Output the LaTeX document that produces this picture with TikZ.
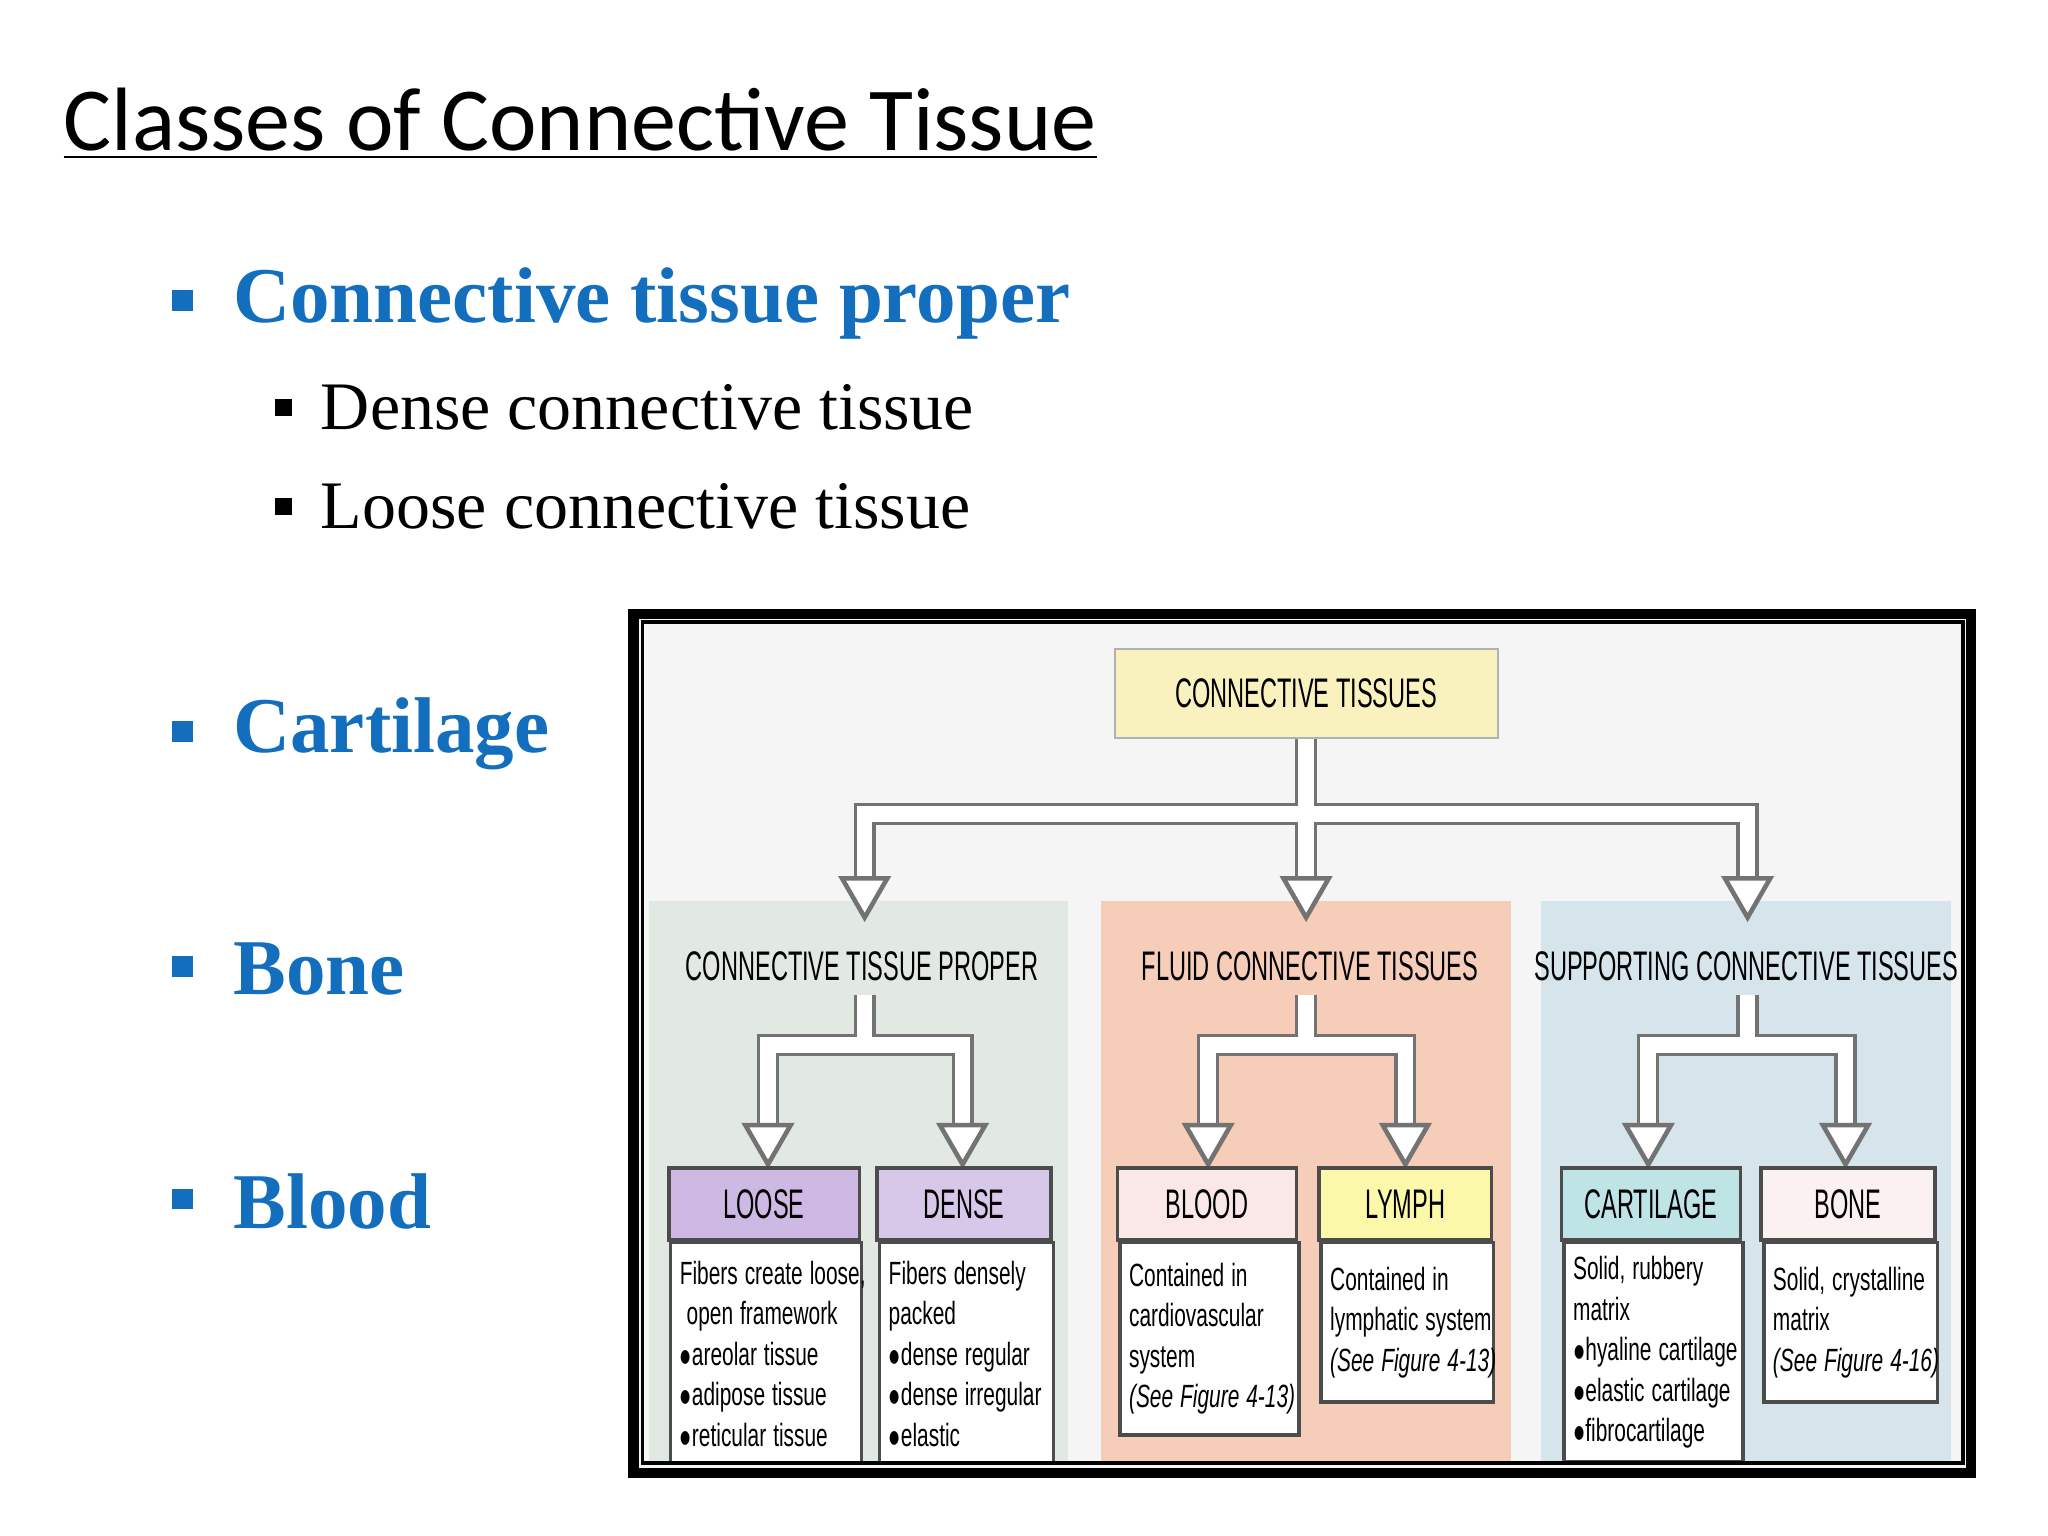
\documentclass[tikz,border=0pt]{standalone}
\usepackage{fontspec}
\setmainfont{Liberation Serif}
\newfontfamily\titlef{Carlito}
\newfontfamily\dsans{Liberation Sans}
\usetikzlibrary{shapes.geometric}
\definecolor{tblue}{RGB}{20,110,190}
\definecolor{pgreen}{RGB}{226,232,226}
\definecolor{ppeach}{RGB}{246,205,185}
\definecolor{pblue}{RGB}{214,228,236}
\definecolor{ttop}{RGB}{250,242,190}
\definecolor{hpurple}{RGB}{205,185,228}
\definecolor{hyellow}{RGB}{252,248,170}
\definecolor{hteal}{RGB}{190,228,230}
\definecolor{hpink}{RGB}{250,232,232}
\newcommand{\cn}[1]{\scalebox{0.57}[1]{#1}}
\newcommand{\bn}[1]{\scalebox{0.65}[1]{#1}}
\begin{document}
\begin{tikzpicture}[x=0.01cm,y=-0.01cm,
  bl/.style={fill=tblue,minimum size=0.16cm,inner sep=0},
  sbl/.style={fill=black,minimum size=0.13cm,inner sep=0},
  big/.style={anchor=west,text=tblue,font=\fontsize{17.2}{20}\selectfont\bfseries},
  sub/.style={anchor=west,font=\fontsize{14.8}{18}\selectfont},
  lab/.style={font=\dsans\fontsize{9}{10}\selectfont},
  hdr/.style={draw=black!70,line width=0.8pt,minimum height=0.55cm,inner sep=0,font=\dsans\fontsize{9}{10}\selectfont},
  body/.style={draw=black!70,line width=0.8pt,fill=white,anchor=north west,align=left,inner sep=2pt,text width=#1cm-4pt,font=\dsans\fontsize{7}{8.8}\selectfont},
  tubeo/.style={draw=black!55,line width=0.17cm},
  tubei/.style={draw=white,line width=0.12cm},
  head/.style={draw=black!55,fill=white,line width=1pt,isosceles triangle,shape border rotate=-90,minimum width=0.32cm,minimum height=0.3cm,inner sep=0,isosceles triangle apex angle=60}]
\useasboundingbox (0,0) rectangle (1568,1176);
% title
\node[anchor=base west,inner sep=0,font=\titlef\fontsize{19.6}{22}\selectfont] (title) at (48,115) {\underline{Classes of Connective Tissue}};
% bullets
\node[bl] (b1) at (140,230) {}; \node[big,inner sep=0] (t1) at (178,232) {Connective tissue proper};
\node[sbl] (s1) at (217,312) {}; \node[sub,inner sep=0] (u1) at (245,312) {Dense connective tissue};
\node[sbl] (s2) at (217,388) {}; \node[sub,inner sep=0] (u2) at (245,388) {Loose connective tissue};
\node[bl] (b2) at (140,560) {}; \node[big,inner sep=0] (t2) at (178,562) {Cartilage};
\node[bl] (b3) at (140,740) {}; \node[big,inner sep=0] (t3) at (178,742) {Bone};
\node[bl] (b4) at (140,918) {}; \node[big,inner sep=0] (t4) at (178,920) {Blood};
% figure frame
\fill[black!4] (486,470) rectangle (1508,1128);
\fill[pgreen] (497,690) rectangle (818,1120);
\fill[ppeach] (843,690) rectangle (1157,1120);
\fill[pblue] (1180,690) rectangle (1494,1120);
% top box
\node[draw=black!30,fill=ttop,minimum width=2.93cm,minimum height=0.68cm,lab] (top) at (1000,531) {\cn{CONNECTIVE TISSUES}};
% tubes
\foreach \s in {tubeo,tubei}{
 \draw[\s] (1000,566) -- (1000,640);
 \draw[\s] (662,680) -- (662,623) -- (1338,623) -- (1338,680);
 \draw[\s] (1000,623) -- (1000,680);
 \draw[\s] (662,762) -- (662,800);
 \draw[\s] (588,870) -- (588,800) -- (737,800) -- (737,870);
}
\foreach \s in {tubeo,tubei}{
 \draw[\s] (1000,762) -- (1000,800);
 \draw[\s] (925,870) -- (925,800) -- (1076,800) -- (1076,870);
 \draw[\s] (1338,762) -- (1338,800);
 \draw[\s] (1262,870) -- (1262,800) -- (1413,800) -- (1413,870);
}
\foreach \x/\y/\n in {662/706/h1,1000/706/h2,1338/706/h3,588/895/h4,737/895/h5,925/895/h6,1076/895/h7,1262/895/h8,1413/895/h9}
 \node[head,anchor=apex] (\n) at (\x,\y) {};
% panel labels
\node[lab] (p1) at (660,740) {\cn{CONNECTIVE TISSUE PROPER}};
\node[lab] (p2) at (1003,740) {\cn{FLUID CONNECTIVE TISSUES}};
\node[lab] (p3) at (1337,740) {\cn{SUPPORTING CONNECTIVE TISSUES}};
% leaf headers
\node[hdr,fill=hpurple,minimum width=1.46cm] (loose) at (585,922) {\cn{LOOSE}};
\node[hdr,fill=hpurple!80,minimum width=1.33cm] (dense) at (738,922) {\cn{DENSE}};
\node[hdr,fill=hpink,minimum width=1.37cm] (blood) at (924,922) {\cn{BLOOD}};
\node[hdr,fill=hyellow,minimum width=1.32cm] (lymph) at (1076,922) {\cn{LYMPH}};
\node[hdr,fill=hteal,minimum width=1.37cm] (cart) at (1264,922) {\cn{CARTILAGE}};
\node[hdr,fill=hpink!60,minimum width=1.33cm] (bone) at (1415,922) {\cn{BONE}};
% bodies
\node[body=1.46,minimum height=1.70cm] (lb) at (512,950) {\bn{Fibers create loose,}\\\bn{ open framework}\\\bn{$\bullet$areolar tissue}\\\bn{$\bullet$adipose tissue}\\\bn{$\bullet$reticular tissue}};
\node[body=1.33,minimum height=1.70cm] (db) at (672,950) {\bn{Fibers densely}\\\bn{packed}\\\bn{$\bullet$dense regular}\\\bn{$\bullet$dense irregular}\\\bn{$\bullet$elastic}};
\node[body=1.37,minimum height=1.47cm] (bb) at (856,950) {\bn{Contained in}\\\bn{cardiovascular}\\\bn{system}\\\bn{\itshape (See Figure 4-13)}};
\node[body=1.32,minimum height=1.22cm] (ly) at (1010,950) {\bn{Contained in}\\\bn{lymphatic system}\\\bn{\itshape (See Figure 4-13)}};
\node[body=1.37,minimum height=1.68cm] (cb) at (1196,950) {\bn{Solid, rubbery}\\\bn{matrix}\\\bn{$\bullet$hyaline cartilage}\\\bn{$\bullet$elastic cartilage}\\\bn{$\bullet$fibrocartilage}};
\node[body=1.33,minimum height=1.22cm] (bo) at (1349,950) {\bn{Solid, crystalline}\\\bn{matrix}\\\bn{\itshape (See Figure 4-16)}};
% cover bottom & frame
\fill[black!4] (486,1119) rectangle (1508,1128);
\draw[line width=2.2pt] (485,470) rectangle (1509,1128);
\draw[line width=0.8pt] (492,476) rectangle (1503,1120);
\end{tikzpicture}
\end{document}
